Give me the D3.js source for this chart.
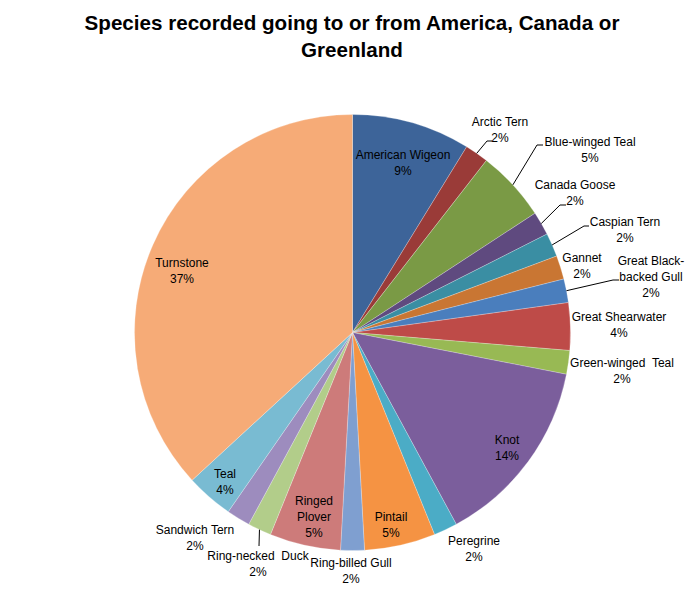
<!DOCTYPE html>
<html><head><meta charset="utf-8">
<script src="https://cdn.jsdelivr.net/npm/d3@7"></script>
<style>
html,body{margin:0;padding:0;background:#fff;}
svg{display:block;}
text{font-family:"Liberation Sans",Arial,sans-serif;}
</style></head>
<body>
<svg id="chart" width="697" height="595"></svg>
<script>
// Data: counts per species (clockwise from 12 o'clock)
const species = ["American Wigeon","Arctic Tern","Blue-winged Teal","Canada Goose","Caspian Tern","Gannet","Great Black-backed Gull","Great Shearwater","Green-winged Teal","Knot","Peregrine","Pintail","Ring-billed Gull","Ringed Plover","Ring-necked Duck","Sandwich Tern","Teal","Turnstone"];
const counts  = [5,1,3,1,1,1,1,2,1,8,1,3,1,3,1,1,2,21];
const colors  = ["#3D6499","#9A3B38","#7A9A45","#5F4A7F","#3A8EA3","#C97633","#4A7EBD","#BE4B48","#98B954","#7B5E9C","#4BACC6","#F59343","#7F9FD0","#CD7B7A","#B2CD8A","#9D8CBE","#79BBD2","#F6AB77"];
const titleLines = ["Species recorded going to or from America, Canada or","Greenland"];

// Layout of the label text (lines and centre position, pixels) — not data
const labelLines = [
  ["American Wigeon"],["Arctic Tern"],["Blue-winged Teal"],["Canada Goose"],["Caspian Tern"],["Gannet"],
  ["Great Black-","backed Gull"],["Great Shearwater"],["Green-winged  Teal"],["Knot"],["Peregrine"],["Pintail"],
  ["Ring-billed Gull"],["Ringed","Plover"],["Ring-necked  Duck"],["Sandwich Tern"],["Teal"],["Turnstone"]
];
const labelPos = [
  [403,155],[500,122],[590,142],[575,185],[625,222],[582,258],
  [651,261],[619,317],[622,363],[507,440],[474,541],[391,517],
  [351,563],[314,501],[258,556],[195,530],[225,474],[182,263]
];
// leader line elbow/end points for outside labels (null = no leader)
const leaders = [
  null,[[487,141],[492,141]],[[537,145],[543,145]],[[560,205],[566,205]],[[584,226],[589,226]],null,
  [[613,280],[619,280]],null,null,null,null,null,
  null,null,[[259,546]],null,null,null
];

const svg = d3.select("#chart");
const cx = 352.5, cy = 332.5, R = 218;

svg.append("g").selectAll("text").data(titleLines).join("text")
  .attr("x", 352).attr("y", (d,i)=>30 + i*27)
  .attr("text-anchor","middle")
  .attr("font-weight","bold").attr("font-size","20.6px").attr("fill","#000")
  .text(d=>d);

const pie = d3.pie().sort(null).value(d=>d);
const arcs = pie(counts);
const arc = d3.arc().innerRadius(0).outerRadius(R);
const total = d3.sum(counts);

const g = svg.append("g").attr("transform",`translate(${cx},${cy})`);
g.selectAll("path").data(arcs).join("path")
  .attr("d", arc)
  .attr("fill", (d,i)=>colors[i])
  .attr("stroke","#ffffff").attr("stroke-opacity",0.35).attr("stroke-width",0.7);

// leader lines
arcs.forEach((a,i)=>{
  if(!leaders[i]) return;
  const mid = (a.startAngle + a.endAngle)/2;
  const p0 = [cx + R*Math.sin(mid), cy - R*Math.cos(mid)];
  const pts = [p0, ...leaders[i]];
  svg.append("path")
    .attr("d", d3.line()(pts))
    .attr("fill","none").attr("stroke","#000").attr("stroke-width",1);
});

// labels
const lg = svg.append("g");
arcs.forEach((a,i)=>{
  const pct = Math.round(a.data/total*100) + "%";
  const lines = labelLines[i].concat([pct]);
  const [x,y] = labelPos[i];
  lg.append("text")
    .attr("text-anchor","middle").attr("font-size","12px").attr("fill","#000")
    .attr("xml:space","preserve").style("white-space","pre")
    .selectAll("tspan").data(lines).join("tspan")
    .attr("x", x).attr("y",(d,j)=>y + 4 + j*16)
    .text(d=>d);
});
</script>
</body></html>
